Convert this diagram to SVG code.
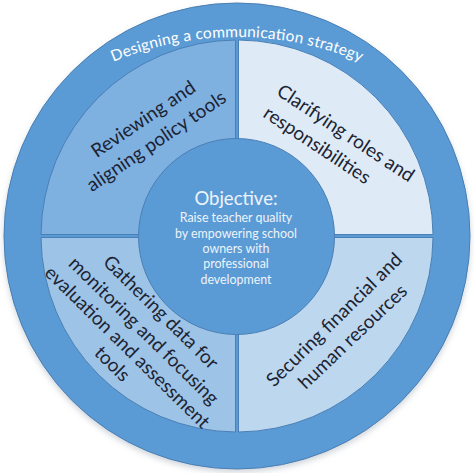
<svg xmlns="http://www.w3.org/2000/svg" width="474" height="473" viewBox="0 0 474 473">
<style>
.q{stroke:#4a7fb5;stroke-width:1}
.qt{font-family:Lato,"Open Sans",sans-serif;font-size:19px;fill:#1c2333;text-anchor:middle}
.ct{font-family:Lato,"Open Sans",sans-serif;fill:#edf3fa;text-anchor:middle}
</style>
<defs>
<filter id="sh" x="-10%" y="-10%" width="120%" height="120%"><feGaussianBlur stdDeviation="3"/></filter>
<path id="arc" d="M -83 357 A 320 320 0 0 1 557 357"/>
</defs>
<circle cx="237" cy="239" r="233" fill="#9aa4b0" opacity="0.5" filter="url(#sh)"/>
<g id="ring">
<circle cx="237" cy="236" r="233" fill="#5b9bd5" stroke="#4a7fb5" stroke-width="1"/>
<text font-family="Lato,'Open Sans',sans-serif" font-size="15.5" fill="#ffffff"><textPath href="#arc" startOffset="50%" text-anchor="middle" textLength="254" lengthAdjust="spacing">Designing a communication strategy</textPath></text>
</g>
<g id="connectors"></g>
<g id="q-tl">
<path class="q" fill="#7eb0e0" d="M 235.5 234.5 L 41 234.5 A 196 196 0 0 1 235.5 40 Z"/>
<text class="qt" transform="translate(143.5,119.5) rotate(-34)" y="6">Reviewing and</text>
<text class="qt" transform="translate(156.5,141.5) rotate(-34)" y="6">aligning policy tools</text>
</g>
<g id="q-tr">
<path class="q" fill="#deebf7" d="M 238.5 234.5 L 238.5 40 A 196 196 0 0 1 433 234.5 Z"/>
<text class="qt" transform="translate(345.5,133.5) rotate(33.5)" y="6">Clarifying roles and</text>
<text class="qt" transform="translate(317,145.5) rotate(33.5)" y="6">responsibilities</text>
</g>
<g id="q-bl">
<path class="q" fill="#9dc3e6" d="M 235.5 237.5 L 235.5 432 A 196 196 0 0 1 41 237.5 Z"/>
<text class="qt" transform="translate(160.5,312.5) rotate(44.5)" y="6">Gathering data for</text>
<text class="qt" transform="translate(143.5,331) rotate(44.5)" y="6">monitoring and focusing</text>
<text class="qt" transform="translate(127,347.5) rotate(44.5)" y="6">evaluation and assessment</text>
<text class="qt" transform="translate(112,364) rotate(44.5)" y="6">tools</text>
</g>
<g id="q-br">
<path class="q" fill="#bdd7ee" d="M 238.5 237.5 L 433 237.5 A 196 196 0 0 1 238.5 432 Z"/>
<text class="qt" transform="translate(334.5,320) rotate(-44.5)" y="6">Securing financial and</text>
<text class="qt" transform="translate(353,337) rotate(-43.5)" y="6">human resources</text>
</g>
<g id="objective">
<circle cx="236.5" cy="236.5" r="98" fill="#5b9bd5" stroke="#4a7fb5" stroke-width="1"/>
<text class="ct" x="236" y="205" font-size="18.5">Objective:</text>
<text class="ct" x="236" y="222" font-size="12.4">Raise teacher quality</text>
<text class="ct" x="236" y="237.5" font-size="12.4">by empowering school</text>
<text class="ct" x="236" y="253" font-size="12.4">owners with</text>
<text class="ct" x="236" y="268" font-size="12.4">professional</text>
<text class="ct" x="236" y="283.5" font-size="12.4">development</text>
</g>
</svg>
